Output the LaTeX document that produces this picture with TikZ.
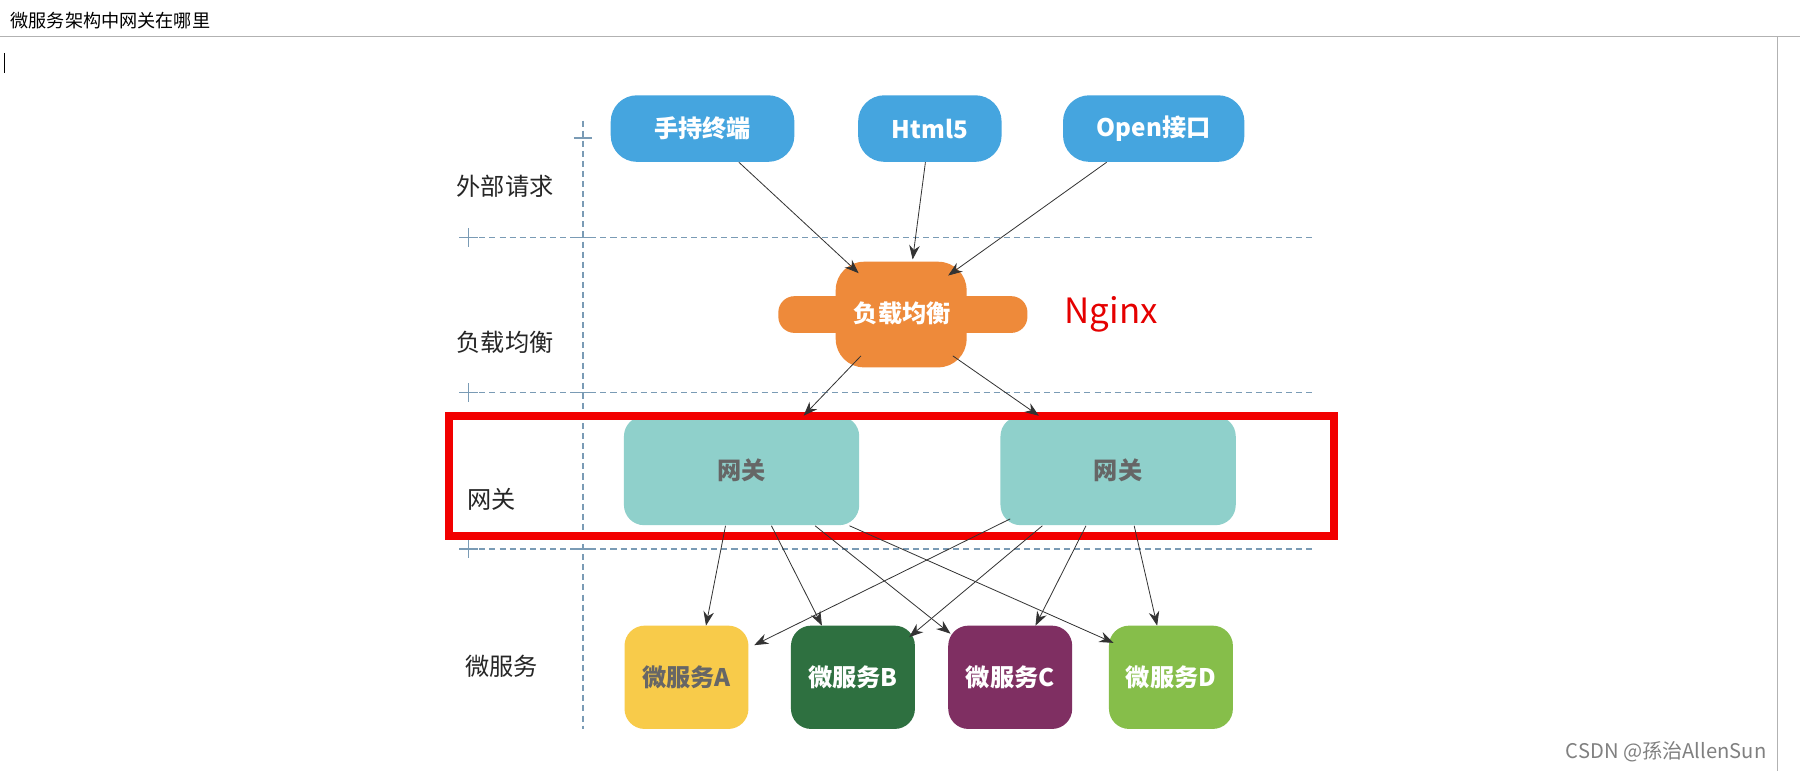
\documentclass[tikz,border=0pt]{standalone}
\usepackage{fontspec}
\setmainfont{Noto Sans CJK SC}
\usetikzlibrary{arrows.meta}
\definecolor{pill}{HTML}{45A5DF}
\definecolor{lb}{HTML}{EE8A3A}
\definecolor{gw}{HTML}{8FD0CB}
\definecolor{dashc}{HTML}{7A9BB5}
\begin{document}
\begin{tikzpicture}[x=0.02cm,y=-0.02cm,
 pillS/.style={fill=pill,rounded corners=13pt,minimum height=1.16cm,text=white,font=\bfseries\large},
 gwS/.style={fill=gw,rounded corners=10pt,minimum width=4.1cm,minimum height=1.9cm,text=black!60,font=\bfseries\large},
 msS/.style={rounded corners=10pt,minimum width=2.16cm,minimum height=1.8cm,text=white,font=\bfseries\large},
 lab/.style={font=\large,text=black!85},
 arr/.style={-{Stealth[length=7pt]},black!80,thin},
 dl/.style={dashc,densely dashed,thick}]
\useasboundingbox (0,0) rectangle (1568,672);
\fill[white] (0,0) rectangle (1568,672);
\node[anchor=west,font=\small] (title) at (3,18) {微服务架构中网关在哪里};
\draw[black!30] (0,32) -- (1568,32);
\draw[black!30] (1548,32) -- (1548,672);
\draw (4,46) -- (4,64);
% dashed grid
\draw[dl] (508,105) -- (508,635);
\draw[dl] (400,207) -- (1145,207);
\draw[dl] (400,342) -- (1145,342);
\draw[dl] (400,478) -- (1145,478);
\foreach \yy in {120,207,342,478} \draw[dashc,thick] (500,\yy) -- (516,\yy);
\foreach \yy in {207,342,478} \draw[dashc,thick] (408,\yy-8) -- (408,\yy+8) (400,\yy)--(416,\yy);
\node[lab] (l1) at (440,162) {外部请求};
\node[lab] (l2) at (440,298) {负载均衡};
\node[lab] (l3) at (428,435) {网关};
\node[lab] (l4) at (437,580) {微服务};
% pills
\node[pillS,minimum width=3.2cm] (p1) at (612,112) {手持终端};
\node[pillS,minimum width=2.5cm] (p2) at (810,112) {Html5};
\node[pillS,minimum width=3.16cm] (p3) at (1005,112) {Open接口};
% load balancer
\fill[lb,rounded corners=8pt] (678,258) rectangle (895,290);
\fill[lb,rounded corners=14pt] (728,228) rectangle (842,320);
\node[text=white,font=\bfseries\large] (lbn) at (786,273) {负载均衡};
\node[text=red!90!black,font=\LARGE] (ng) at (968,274) {Nginx};
% gateways
\node[gwS] (g1) at (646,410) {网关};
\node[gwS] (g2) at (974,410) {网关};
\draw[red!95!black,line width=4pt] (391,362) rectangle (1162,467);
% services
\node[msS,fill={rgb,255:red,248;green,203;blue,74},text=black!60] (a) at (598,590) {微服务A};
\node[msS,fill={rgb,255:red,46;green,112;blue,64}] (b) at (743,590) {微服务B};
\node[msS,fill={rgb,255:red,127;green,47;blue,98}] (c) at (880,590) {微服务C};
\node[msS,fill={rgb,255:red,134;green,190;blue,74}] (d) at (1020,590) {微服务D};
% arrows
\draw[arr] (p1) -- (748,238);
\draw[arr] (p2) -- (795,226);
\draw[arr] (p3) -- (826,240);
\draw[arr] (750,310) -- (g1.north -| 700,0);
\draw[arr] (830,310) -- (g2.north -| 905,0);
\draw[arr] (632,458) -- (615,545);
\draw[arr] (672,458) -- (716,545);
\draw[arr] (710,458) -- (828,552);
\draw[arr] (740,458) -- (970,560);
\draw[arr] (880,452) -- (657,562);
\draw[arr] (908,458) -- (792,555);
\draw[arr] (946,458) -- (902,545);
\draw[arr] (988,458) -- (1008,545);
\node[text=black!50,anchor=east] (wm) at (1545,655) {CSDN @孫治AllenSun};
\end{tikzpicture}
\end{document}
